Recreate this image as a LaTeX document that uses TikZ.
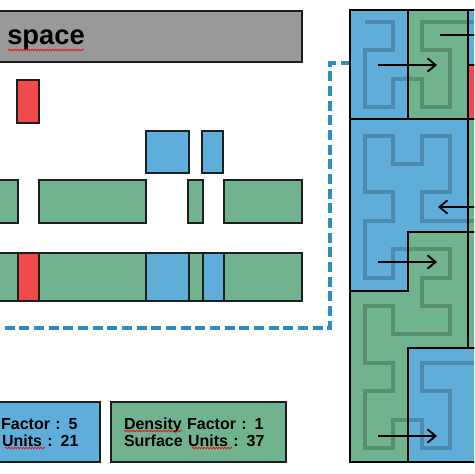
\documentclass[tikz,border=0pt]{standalone}
\usepackage{fontspec}
\setmainfont{Liberation Sans}
\usetikzlibrary{arrows.meta,decorations.pathmorphing}

\definecolor{blueunit}{HTML}{5FAEDA}
\definecolor{greenunit}{HTML}{70B38E}
\definecolor{redunit}{HTML}{F04A4A}
\definecolor{grayunit}{HTML}{999999}
\definecolor{dashblue}{HTML}{2E8BC4}
\definecolor{edge}{HTML}{1E1E1E}

\tikzset{
  unit/.style={draw=edge, line width=1pt},
  region/.style={draw=black, line width=0.9pt},
  hilbert/.style={draw=black, draw opacity=0.2, line width=3pt},
  move/.style={-{Straight Barb[length=6pt,width=10pt]}, line width=1.4pt},
  link/.style={draw=dashblue, line width=2.8pt, dash pattern={on 7.5pt off 3.5pt}},
  spell/.style={draw=red, line width=0.5pt, decorate, decoration={snake, amplitude=0.6pt, segment length=2.2pt}},
  legend/.style={draw=edge, line width=1pt, minimum width=131.25pt, minimum height=45pt, text width=111.75pt, inner xsep=9.75pt, inner ysep=0pt, align=left, font=\fontsize{12}{12.75}\selectfont\bfseries}
}

\begin{document}
\begin{tikzpicture}[x=0.75pt,y=0.75pt,yscale=-1]
\useasboundingbox (0,0) rectangle (474,474);
\clip (0,0) rectangle (474,474);

\draw[unit, fill=grayunit] (-60,11) rectangle (302,62);
\node[anchor=base west, inner sep=0pt, font=\fontsize{20.5}{24}\selectfont\bfseries] (spacelbl) at (7,45) {space};
\draw[spell] (8,50) -- (84,50);

\draw[unit, fill=redunit] (17,80) rectangle (39,123);
\draw[unit, fill=blueunit] (146,131) rectangle (189,173);
\draw[unit, fill=blueunit] (202,131) rectangle (223,173);

\draw[unit, fill=greenunit] (-20,180) rectangle (18,223);
\draw[unit, fill=greenunit] (39,180) rectangle (146,223);
\draw[unit, fill=greenunit] (188,180) rectangle (203,223);
\draw[unit, fill=greenunit] (224,180) rectangle (302,223);

\draw[unit, fill=greenunit] (-20,253) rectangle (18,301);
\draw[unit, fill=redunit] (18,253) rectangle (39,301);
\draw[unit, fill=greenunit] (39,253) rectangle (146,301);
\draw[unit, fill=blueunit] (146,253) rectangle (189,301);
\draw[unit, fill=greenunit] (189,253) rectangle (203,301);
\draw[unit, fill=blueunit] (203,253) rectangle (224,301);
\draw[unit, fill=greenunit] (224,253) rectangle (302,301);

\draw[link] (-10,328) -- (330,328) -- (330,63) -- (350,63);

\node[legend, fill=blueunit] (legblue) at (12.5,432) {Density Factor : 5\\Surface Units : 21};
\node[legend, fill=greenunit] (leggreen) at (198.5,432) {Density Factor : 1\\Surface Units : 37};
\draw[spell] (5,448) -- (45,448);
\draw[spell] (124,431) -- (182,431);
\draw[spell] (192,448) -- (232,448);

\draw[region, fill=blueunit] (350,10) rectangle (408,119);
\draw[region, fill=greenunit] (408,10) rectangle (468,119);
\draw[region, fill=blueunit] (468,10) rectangle (490,65);
\draw[region, fill=redunit] (468,65) rectangle (490,119);
\draw[region, fill=blueunit] (350,119) -- (468,119) -- (468,232) -- (408,232) -- (408,291) -- (350,291) -- cycle;
\draw[region, fill=greenunit] (468,119) rectangle (490,232);
\draw[region, fill=greenunit] (468,232) rectangle (490,348);
\draw[region, fill=greenunit] (408,232) -- (468,232) -- (468,348) -- (408,348) -- (408,462) -- (350,462) -- (350,291) -- (408,291) -- cycle;
\draw[region, fill=blueunit] (408,348) rectangle (490,462);

\draw[hilbert] (365,22) -- (393,22) -- (393,50) -- (365,50) -- (365,107) -- (393,107) -- (393,79) -- (422,79) -- (422,107) -- (450,107) -- (450,50) -- (422,50) -- (422,22) -- (480,22);
\draw[hilbert] (480,221) -- (422,221) -- (422,192) -- (450,192) -- (450,136) -- (422,136) -- (422,164) -- (393,164) -- (393,136) -- (365,136) -- (365,192) -- (393,192) -- (393,221) -- (365,221) -- (365,278) -- (393,278) -- (393,249) -- (450,249) -- (450,278) -- (422,278) -- (422,306) -- (450,306) -- (450,334) -- (393,334) -- (393,306) -- (365,306) -- (365,363) -- (393,363) -- (393,391) -- (365,391) -- (365,448) -- (393,448) -- (393,420) -- (422,420) -- (422,448) -- (450,448) -- (450,391) -- (422,391) -- (422,363) -- (480,363);

\coordinate (m1a) at (378,65);
\coordinate (m1b) at (437,65);
\coordinate (m2a) at (440,35);
\coordinate (m2b) at (499,35);
\coordinate (m3a) at (500,207);
\coordinate (m3b) at (438,207);
\coordinate (m4a) at (378,262);
\coordinate (m4b) at (437,262);
\coordinate (m5a) at (378,436);
\coordinate (m5b) at (437,436);
\draw[move] (m1a) -- (m1b);
\draw[move] (m2a) -- (m2b);
\draw[move] (m3a) -- (m3b);
\draw[move] (m4a) -- (m4b);
\draw[move] (m5a) -- (m5b);
\end{tikzpicture}
\end{document}
